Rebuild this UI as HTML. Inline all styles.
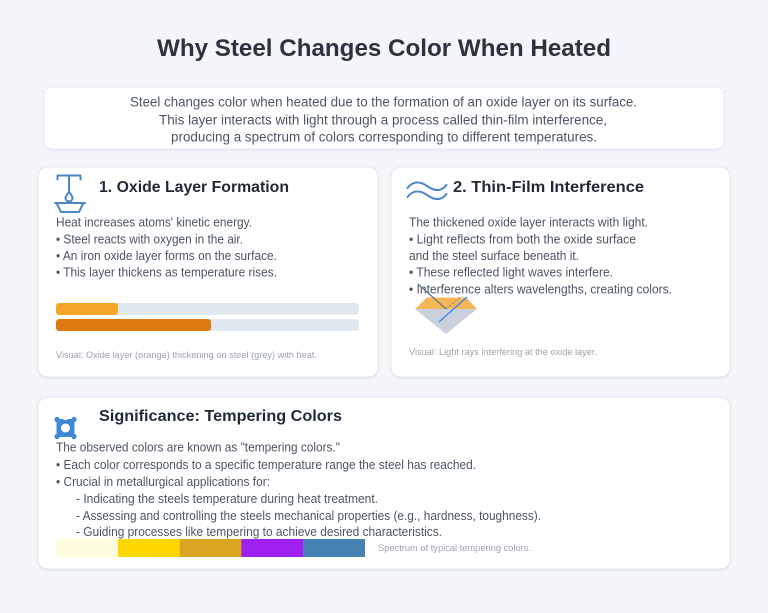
<!DOCTYPE html>
<html>
<head>
<meta charset="utf-8">
<style>
  html,body{margin:0;padding:0;background:#f3f5f9;}
  svg{display:block;}
  text{font-family:"Liberation Sans",Arial,sans-serif;}
</style>
</head>
<body>
<svg width="768" height="613" viewBox="0 0 768 613" xmlns="http://www.w3.org/2000/svg">
  <defs>
    <filter id="sh" x="-5%" y="-5%" width="110%" height="115%">
      <feDropShadow dx="0" dy="1" stdDeviation="1.2" flood-color="#94a3b8" flood-opacity="0.18"/>
    </filter>
  </defs>
  <rect x="0" y="0" width="768" height="613" fill="#f3f5f9"/>

  <!-- Title -->
  <text x="157" y="56" font-size="24" font-weight="bold" fill="#2b3240" textLength="454" lengthAdjust="spacingAndGlyphs">Why Steel Changes Color When Heated</text>

  <!-- Intro box -->
  <rect x="44" y="87" width="680" height="62" rx="8" fill="#ffffff" stroke="#e8ebf0" stroke-width="1" filter="url(#sh)"/>
  <g font-size="13.5" fill="#4b5563">
    <text x="130" y="106.5" textLength="507" lengthAdjust="spacingAndGlyphs">Steel changes color when heated due to the formation of an oxide layer on its surface.</text>
    <text x="159" y="124.5" textLength="448" lengthAdjust="spacingAndGlyphs">This layer interacts with light through a process called thin-film interference,</text>
    <text x="171" y="141.5" textLength="426" lengthAdjust="spacingAndGlyphs">producing a spectrum of colors corresponding to different temperatures.</text>
  </g>

  <!-- Card 1 -->
  <rect x="38" y="167" width="340" height="210" rx="10" fill="#ffffff" stroke="#e3e7ec" stroke-width="1" filter="url(#sh)"/>
  <g fill="none" stroke="#4a86c8" stroke-width="2" stroke-linejoin="round" stroke-linecap="round">
    <path d="M57.5,179.5 V175.5 H80.5 V179.5"/>
    <path d="M69,175.5 V192"/>
    <path d="M69,192 C66.5,195 65.5,196.5 65.5,198 A3.5,3.5 0 0 0 72.5,198 C72.5,196.5 71.5,195 69,192 Z"/>
    <path d="M55,203 H85"/>
    <path d="M56.5,203 L61,212 H79 L83.5,203"/>
  </g>
  <text x="99" y="192" font-size="16" font-weight="bold" fill="#1f2937" textLength="190" lengthAdjust="spacingAndGlyphs">1. Oxide Layer Formation</text>
  <g font-size="12.5" fill="#4b5563">
    <text x="56" y="226.5" textLength="196" lengthAdjust="spacingAndGlyphs">Heat increases atoms' kinetic energy.</text>
    <text x="56" y="243.5" textLength="187" lengthAdjust="spacingAndGlyphs">• Steel reacts with oxygen in the air.</text>
    <text x="56" y="260" textLength="221" lengthAdjust="spacingAndGlyphs">• An iron oxide layer forms on the surface.</text>
    <text x="56" y="276.5" textLength="221" lengthAdjust="spacingAndGlyphs">• This layer thickens as temperature rises.</text>
  </g>
  <rect x="56" y="303" width="303" height="12" rx="3" fill="#e2e8f0"/>
  <rect x="56" y="303" width="62" height="12" rx="3" fill="#f4a52a"/>
  <rect x="56" y="319" width="303" height="12" rx="3" fill="#e2e8f0"/>
  <rect x="56" y="319" width="155" height="12" rx="3" fill="#de7b10"/>
  <text x="56" y="358" font-size="9" fill="#9ca3af" textLength="261" lengthAdjust="spacingAndGlyphs">Visual: Oxide layer (orange) thickening on steel (grey) with heat.</text>

  <!-- Card 2 -->
  <rect x="391" y="167" width="339" height="210" rx="10" fill="#ffffff" stroke="#e3e7ec" stroke-width="1" filter="url(#sh)"/>
  <g fill="none" stroke="#4a86c8" stroke-width="2" stroke-linecap="round">
    <path d="M407.5,188 C413,181 420,181 427,186 S441,192 446.5,185"/>
    <path d="M407.5,197 C413,190 420,190 427,195 S441,201 446.5,194"/>
  </g>
  <text x="453" y="192" font-size="16" font-weight="bold" fill="#1f2937" textLength="191" lengthAdjust="spacingAndGlyphs">2. Thin-Film Interference</text>
  <g font-size="12.5" fill="#4b5563">
    <text x="409" y="226.5" textLength="239" lengthAdjust="spacingAndGlyphs">The thickened oxide layer interacts with light.</text>
    <text x="409" y="243.5" textLength="227" lengthAdjust="spacingAndGlyphs">• Light reflects from both the oxide surface</text>
    <text x="409" y="260" textLength="170" lengthAdjust="spacingAndGlyphs">and the steel surface beneath it.</text>
    <text x="409" y="276.5" textLength="204" lengthAdjust="spacingAndGlyphs">• These reflected light waves interfere.</text>
    <text x="409" y="293.5" textLength="263" lengthAdjust="spacingAndGlyphs">• Interference alters wavelengths, creating colors.</text>
  </g>
  <!-- diagram -->
  <polygon points="427,297.5 466,297.5 477,309 415,309" fill="#f5b655"/>
  <polygon points="415,309 477,309 446,334" fill="#cbd1dc"/>
  <line x1="418" y1="284" x2="446" y2="309" stroke="#5a7896" stroke-width="1.2"/>
  <line x1="446" y1="309" x2="462" y2="296" stroke="#8a8f99" stroke-width="1.2" stroke-dasharray="2,2"/>
  <line x1="439" y1="322" x2="467" y2="297" stroke="#3b82f6" stroke-width="1.3"/>
  <text x="409" y="355" font-size="9" fill="#9ca3af" textLength="188" lengthAdjust="spacingAndGlyphs">Visual: Light rays interfering at the oxide layer.</text>

  <!-- Card 3 -->
  <rect x="38" y="397" width="692" height="172" rx="10" fill="#ffffff" stroke="#e3e7ec" stroke-width="1" filter="url(#sh)"/>
  <g fill="#3f88d4">
    <rect x="56.5" y="419" width="18" height="18" rx="4"/>
    <circle cx="57" cy="419.5" r="2.6"/>
    <circle cx="74" cy="419.5" r="2.6"/>
    <circle cx="57" cy="436.5" r="2.6"/>
    <circle cx="74" cy="436.5" r="2.6"/>
  </g>
  <circle cx="65.5" cy="428" r="4.5" fill="#ffffff"/>
  <rect x="63.5" y="418" width="4" height="2" fill="#ffffff"/>
  <text x="99" y="421" font-size="16" font-weight="bold" fill="#1f2937" textLength="243" lengthAdjust="spacingAndGlyphs">Significance: Tempering Colors</text>
  <g font-size="12.5" fill="#4b5563">
    <text x="56" y="451.5" textLength="284" lengthAdjust="spacingAndGlyphs">The observed colors are known as "tempering colors."</text>
    <text x="56" y="469" textLength="420" lengthAdjust="spacingAndGlyphs">• Each color corresponds to a specific temperature range the steel has reached.</text>
    <text x="56" y="486" textLength="214" lengthAdjust="spacingAndGlyphs">• Crucial in metallurgical applications for:</text>
    <text x="76" y="503" textLength="302" lengthAdjust="spacingAndGlyphs">- Indicating the steels temperature during heat treatment.</text>
    <text x="76" y="520" textLength="465" lengthAdjust="spacingAndGlyphs">- Assessing and controlling the steels mechanical properties (e.g., hardness, toughness).</text>
    <text x="76" y="536" textLength="366" lengthAdjust="spacingAndGlyphs">- Guiding processes like tempering to achieve desired characteristics.</text>
  </g>
  <rect x="56" y="539" width="62" height="18" fill="#fffde0"/>
  <rect x="117.8" y="539" width="62" height="18" fill="#ffd700"/>
  <rect x="179.6" y="539" width="62" height="18" fill="#daa520"/>
  <rect x="241.4" y="539" width="62" height="18" fill="#a020f0"/>
  <rect x="303.2" y="539" width="61.8" height="18" fill="#4682b4"/>
  <text x="378" y="551" font-size="9" fill="#9ca3af" textLength="153" lengthAdjust="spacingAndGlyphs">Spectrum of typical tempering colors.</text>
</svg>
</body>
</html>
